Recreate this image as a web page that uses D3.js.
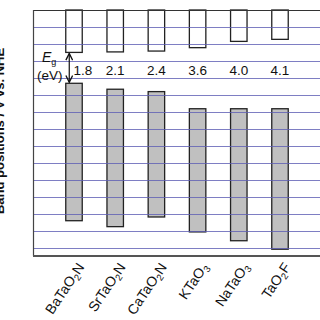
<!DOCTYPE html>
<html><head><meta charset="utf-8">
<script src="https://cdn.jsdelivr.net/npm/d3@7/dist/d3.min.js"></script>
<style>html,body{margin:0;padding:0;background:#fff;overflow:hidden}</style>
</head><body>
<svg id="c" width="320" height="320"></svg>
<script>
const compounds = [
  ["BaTaO", "2", "N"],
  ["SrTaO", "2", "N"],
  ["CaTaO", "2", "N"],
  ["KTaO", "3", ""],
  ["NaTaO", "3", ""],
  ["TaO", "2", "F"]
];
const names = ["BaTaO2N", "SrTaO2N", "CaTaO2N", "KTaO3", "NaTaO3", "TaO2F"];
const cbBottom = [-1.5, -1.53, -1.58, -1.78, -2.15, -2.27];
const vbTop = [0.32, 0.67, 0.81, 1.82, 1.82, 1.82];
const vbBottom = [8.42, 8.77, 8.2, 9.08, 9.6, 10.1];
const gapLabels = ["1.8", "2.1", "2.4", "3.6", "4.0", "4.1"];
const yTicks = d3.range(-3, 11, 1);
const yLabel = "Band positions / V vs. NHE";

const svg = d3.select("#c");
const mLeft = 33, mTop = 10, mBottom = 256, mRight = 320;
const y = d3.scaleLinear().domain([-4, 10.5]).range([mTop, mBottom]);
const x = d3.scaleBand().domain(names).range([53.4, 300.6]).paddingInner(0.6).paddingOuter(0.3);
const bw = x.bandwidth();

// CB bars (white)
svg.selectAll("rect.cb").data(names).join("rect")
  .attr("x", d => x(d)).attr("y", y(-4))
  .attr("width", bw).attr("height", (d, i) => y(cbBottom[i]) - y(-4))
  .attr("fill", "#fff").attr("stroke", "#222").attr("stroke-width", 1.3);
// VB bars (gray)
svg.selectAll("rect.vb").data(names).join("rect")
  .attr("x", d => x(d)).attr("y", (d, i) => y(vbTop[i]))
  .attr("width", bw).attr("height", (d, i) => y(vbBottom[i]) - y(vbTop[i]))
  .attr("fill", "#c0c0c0").attr("stroke", "#222").attr("stroke-width", 1.3);

// gridlines on top
svg.append("g").selectAll("line").data(yTicks).join("line")
  .attr("x1", mLeft).attr("x2", mRight)
  .attr("y1", d => Math.round(y(d)) + 0.5).attr("y2", d => Math.round(y(d)) + 0.5)
  .attr("stroke", "#5e5eb4").attr("stroke-opacity", 0.8).attr("stroke-width", 1);

// frame
svg.append("line").attr("x1", mLeft).attr("x2", mRight).attr("y1", mTop + 0.5).attr("y2", mTop + 0.5)
  .attr("stroke", "#333").attr("stroke-width", 1);
svg.append("line").attr("x1", mLeft + 0.5).attr("x2", mLeft + 0.5).attr("y1", mTop).attr("y2", mBottom)
  .attr("stroke", "#444").attr("stroke-width", 1.2);
svg.append("line").attr("x1", mLeft).attr("x2", mRight).attr("y1", mBottom).attr("y2", mBottom)
  .attr("stroke", "#555").attr("stroke-width", 2);

// gap labels
svg.append("g").selectAll("text").data(names).join("text")
  .attr("x", (d, i) => x(d) + bw / 2 + (i === 0 ? 9 : 0))
  .attr("y", 74.5)
  .attr("text-anchor", "middle")
  .attr("font-family", "Liberation Sans, Arial, sans-serif").attr("font-size", 13.5)
  .attr("fill", "#111")
  .text((d, i) => gapLabels[i]);

// Eg arrow
const ax = x(names[0]) + 3.5;
const defs = svg.append("defs");
defs.append("marker").attr("id", "ah").attr("viewBox", "0 0 10 10").attr("refX", 9).attr("refY", 5)
  .attr("markerWidth", 7).attr("markerHeight", 7).attr("orient", "auto-start-reverse")
  .append("path").attr("d", "M1,1 L9,5 L1,9").attr("fill", "none").attr("stroke", "#111").attr("stroke-width", 1.6);
svg.append("line").attr("x1", ax).attr("x2", ax)
  .attr("y1", y(cbBottom[0]) + 1).attr("y2", y(vbTop[0]) - 1)
  .attr("stroke", "#111").attr("stroke-width", 1.2)
  .attr("marker-start", "url(#ah)").attr("marker-end", "url(#ah)");

// Eg label
const eg = svg.append("text").attr("x", 42).attr("y", 62)
  .attr("font-family", "Liberation Sans, Arial, sans-serif").attr("font-size", 14).attr("fill", "#111");
eg.append("tspan").attr("font-style", "italic").text("E");
eg.append("tspan").attr("font-size", 9).attr("dy", 3).text("g");
svg.append("text").attr("x", 37).attr("y", 80)
  .attr("font-family", "Liberation Sans, Arial, sans-serif").attr("font-size", 13.5).attr("fill", "#111")
  .text("(eV)");

// x labels
const xl = svg.append("g").selectAll("text").data(names).join("text")
  .attr("transform", d => `translate(${x(d) + bw / 2 + 11},${267}) rotate(-56)`)
  .attr("text-anchor", "end")
  .attr("font-family", "Liberation Sans, Arial, sans-serif").attr("font-size", 14).attr("fill", "#111");
xl.each(function(d, i) {
  const t = d3.select(this);
  const c = compounds[i];
  t.append("tspan").text(c[0]);
  t.append("tspan").attr("font-size", 9.5).attr("dy", 3).text(c[1]);
  if (c[2]) t.append("tspan").attr("dy", -3).text(c[2]);
});

// y label (clipped at left edge, as in the reference)
svg.append("text").attr("transform", `translate(4,131) rotate(-90)`)
  .attr("text-anchor", "middle")
  .attr("font-family", "Liberation Sans, Arial, sans-serif").attr("font-size", 13).attr("font-weight", "bold")
  .attr("fill", "#111").text(yLabel);
</script>
</body></html>
